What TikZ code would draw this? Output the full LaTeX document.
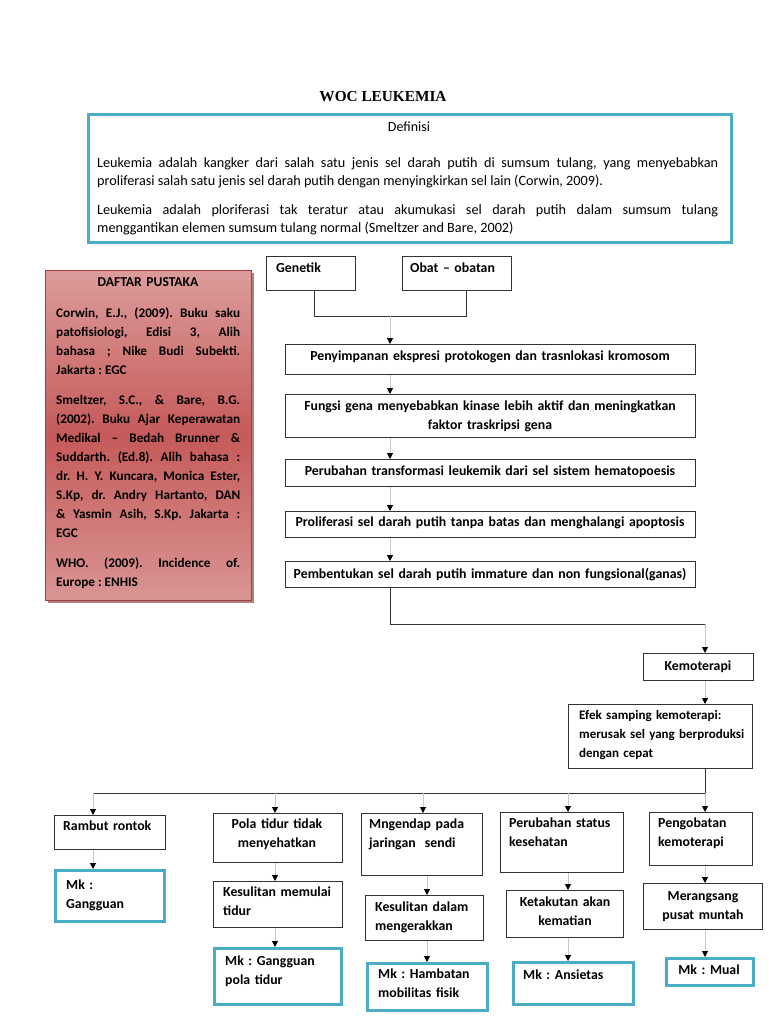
\documentclass[tikz,border=0pt]{standalone}
\usepackage{fontspec}
\setmainfont{Carlito}
\newfontfamily\titlefont{Liberation Serif}
\usetikzlibrary{arrows.meta,shadows,calc}
\definecolor{mkblue}{HTML}{4BACC6}
\definecolor{arrgray}{HTML}{C8C8C8}
\definecolor{dpTop}{HTML}{DC9C9B}
\definecolor{dpMid}{HTML}{C55A5A}
\definecolor{dpBot}{HTML}{D99594}
\definecolor{dpEdge}{HTML}{A04040}
\definecolor{dpShadow}{HTML}{7A2E2E}
\frenchspacing
\tikzset{
  fbox/.style={draw=black!80, line width=1pt, inner sep=0pt, anchor=north west},
  mkbox/.style={draw=mkblue, line width=2.8pt, inner sep=0pt, anchor=north west},
  tx/.style={inner sep=0pt, font=\bfseries\fontsize{13.8}{19}\selectfont, execute at begin node={\hyphenpenalty=10000\strut}, yshift=10.1pt},
  txl/.style={tx, text width=#1, align=left, anchor=north west},
  txl/.default=200pt,
  txc/.style={tx, text width=#1, align=center, anchor=north},
  txc/.default=150pt,
  jus/.style={inner sep=0pt, anchor=north west, text width=#1, align=justify,
    execute at begin node={\tolerance=10000\hyphenpenalty=10000\strut}},
  arr/.style={draw=arrgray, line width=1pt, -{Triangle[color=black,width=6pt,length=6pt]}},
  conn/.style={draw=black!80, line width=1pt},
}
\begin{document}
\begin{tikzpicture}[x=1pt,y=-1pt]
\useasboundingbox (0,0) rectangle (768,1024);
\fill[white] (0,0) rectangle (768,1024);

% title
\node[inner sep=0pt, font=\titlefont\bfseries\fontsize{15.3}{18}\selectfont] (title) at (383,97) {WOC LEUKEMIA};

% definisi
\node[mkbox, minimum width=643pt, minimum height=128pt] (def) at (87,113) {};
\node[inner sep=0pt, anchor=north, text width=200pt, align=center, font=\fontsize{14}{18}\selectfont, execute at begin node=\strut, yshift=9.3pt] (deft) at (409,128) {Definisi};
\node[jus=621pt, font=\fontsize{14.2}{18}\selectfont, yshift=9.3pt] (defp) at (97,164)
{Leukemia adalah kangker dari salah satu jenis sel darah putih di sumsum tulang, yang menyebabkan\linebreak
proliferasi salah satu jenis sel darah putih dengan menyingkirkan sel lain (Corwin, 2009).\\[11pt]
Leukemia adalah ploriferasi tak teratur atau akumukasi sel darah putih dalam sumsum tulang\linebreak
menggantikan elemen sumsum tulang normal (Smeltzer and Bare, 2002)};

% daftar pustaka
\node[draw=dpEdge, line width=0.8pt, inner sep=0pt, anchor=north west, minimum width=206pt, minimum height=330pt,
  top color=dpTop, bottom color=dpBot, middle color=dpMid,
  drop shadow={fill=dpShadow, opacity=0.6, shadow xshift=2.5pt, shadow yshift=-2.5pt}] (dp) at (45,270) {};
\node[inner sep=0pt, anchor=north, text width=184pt, align=center, font=\bfseries\fontsize{13.6}{19}\selectfont, execute at begin node=\strut, yshift=10.2pt] (dpt) at (148,283) {DAFTAR PUSTAKA};
\node[jus=184pt, font=\bfseries\fontsize{13.2}{19}\selectfont, yshift=10.2pt] (dpb) at (56,314)
{Corwin, E.J., (2009). Buku saku\linebreak
patofisiologi, Edisi 3, Alih\linebreak
bahasa ; Nike Budi Subekti.\linebreak
Jakarta : EGC\\[11pt]
Smeltzer, S.C., \& Bare, B.G.\linebreak
(2002). Buku Ajar Keperawatan\linebreak
Medikal -- Bedah Brunner \&\linebreak
Suddarth. (Ed.8). Alih bahasa :\linebreak
dr. H. Y. Kuncara, Monica Ester,\linebreak
S.Kp, dr. Andry Hartanto, DAN\linebreak
\& Yasmin Asih, S.Kp. Jakarta :\linebreak
EGC\\[11pt]
WHO. (2009). Incidence of.\linebreak
Europe : ENHIS};

% top boxes
\node[fbox, minimum width=89pt, minimum height=34pt] (gen) at (266,256) {};
\node[txl] (gent) at (276,269) {Genetik};
\node[fbox, minimum width=109pt, minimum height=34pt] (obat) at (402,256) {};
\node[txl] (obatt) at (410,269) {Obat -- obatan};

% main chain
\node[fbox, minimum width=410pt, minimum height=30pt] (b1) at (285,344) {};
\node[txc=400pt] (b1t) at (490,357) {Penyimpanan ekspresi protokogen dan trasnlokasi kromosom};
\node[fbox, minimum width=410pt, minimum height=43pt] (b2) at (285,394) {};
\node[txc=400pt] (b2t) at (490,407) {Fungsi gena menyebabkan kinase lebih aktif dan meningkatkan\\faktor traskripsi gena};
\node[fbox, minimum width=410pt, minimum height=27pt] (b3) at (285,459) {};
\node[txc=400pt] (b3t) at (490,472) {Perubahan transformasi leukemik dari sel sistem hematopoesis};
\node[fbox, minimum width=410pt, minimum height=26pt] (b4) at (285,511) {};
\node[txc=400pt] (b4t) at (490,523) {Proliferasi sel darah putih tanpa batas dan menghalangi apoptosis};
\node[fbox, minimum width=410pt, minimum height=26pt] (b5) at (285,561) {};
\node[txc=400pt] (b5t) at (490,575) {Pembentukan sel darah putih immature dan non fungsional(ganas)};

\node[fbox, minimum width=110pt, minimum height=27pt] (kemo) at (643,653) {};
\node[txc] (kemot) at (698,667) {Kemoterapi};
\node[fbox, minimum width=184pt, minimum height=64pt] (efek) at (568,704) {};
\node[txl, font=\bfseries\fontsize{13}{19}\selectfont] (efekt) at (579,716) {Efek samping kemoterapi:\\merusak sel yang berproduksi\\dengan cepat};

% bottom row
\node[fbox, minimum width=111pt, minimum height=34pt] (r1) at (54,815) {};
\node[txl] (r1t) at (63,827) {Rambut rontok};
\node[mkbox, minimum width=109pt, minimum height=51pt] (m1) at (54,869) {};
\node[txl] (m1t) at (66,886) {Mk :\\Gangguan};

\node[fbox, minimum width=129pt, minimum height=49pt] (r2) at (213,813) {};
\node[txc] (r2t) at (277,825) {Pola tidur tidak\\menyehatkan};
\node[fbox, minimum width=129pt, minimum height=46pt] (s2) at (213,881) {};
\node[txl] (s2t) at (223,893) {Kesulitan memulai\\tidur};
\node[mkbox, minimum width=127pt, minimum height=56pt] (m2) at (213,947) {};
\node[txl] (m2t) at (225,962) {Mk : Gangguan\\pola tidur};

\node[fbox, minimum width=121pt, minimum height=62pt] (r3) at (361,813) {};
\node[txl] (r3t) at (369,825) {Mngendap pada\\jaringan\ \ sendi};
\node[fbox, minimum width=118pt, minimum height=45pt] (s3) at (365,895) {};
\node[txl] (s3t) at (375,908) {Kesulitan dalam\\mengerakkan};
\node[mkbox, minimum width=120pt, minimum height=47pt] (m3) at (366,962) {};
\node[txl] (m3t) at (378,975) {Mk : Hambatan\\mobilitas fisik};

\node[fbox, minimum width=123pt, minimum height=60pt] (r4) at (500,812) {};
\node[txl] (r4t) at (509,824) {Perubahan status\\kesehatan};
\node[fbox, minimum width=117pt, minimum height=47pt] (s4) at (506,890) {};
\node[txc] (s4t) at (565,903) {Ketakutan akan\\kematian};
\node[mkbox, minimum width=120pt, minimum height=42pt] (m4) at (512,961) {};
\node[txl] (m4t) at (523,976) {Mk : Ansietas};

\node[fbox, minimum width=103pt, minimum height=53pt] (r5) at (649,812) {};
\node[txl] (r5t) at (658,824) {Pengobatan\\kemoterapi};
\node[fbox, minimum width=119pt, minimum height=46pt] (s5) at (643,883) {};
\node[txc] (s5t) at (703,897) {Merangsang\\pusat muntah};
\node[mkbox, minimum width=87pt, minimum height=27pt] (m5) at (665,957) {};
\node[txc] (m5t) at (709,971) {Mk : Mual};

% coordinates
\coordinate (gx) at (314,316);
\coordinate (ox) at (466,316);
\coordinate (j1) at (390,316);
\coordinate (k1) at (390,624);
\coordinate (k2) at (705,624);
\coordinate (e1) at (705,793);
\coordinate (e0) at (93,793);
\coordinate (e2) at (275,793);
\coordinate (e3) at (423,793);
\coordinate (e4) at (568,793);
\coordinate (c3) at (427,0);

% connectors
\draw[conn] (gen.south -| gx) -- (gx) -- (ox) -- (obat.south -| ox);
\draw[arr] (j1) -- (b1.north -| j1);
\draw[arr] (b1.south -| j1) -- (b2.north -| j1);
\draw[arr] (b2.south -| j1) -- (b3.north -| j1);
\draw[arr] (b3.south -| j1) -- (b4.north -| j1);
\draw[arr] (b4.south -| j1) -- (b5.north -| j1);
\draw[conn] (b5.south -| k1) -- (k1) -- (k2);
\draw[arr] (k2) -- (kemo.north -| k2);
\draw[arr] (kemo.south -| k2) -- (efek.north -| k2);
\draw[conn] (efek.south -| e1) -- (e1) -- (e0);

\draw[arr] (e0) -- (r1.north -| e0);
\draw[arr] (r1.south -| e0) -- (m1.north -| e0);
\draw[arr] (e2) -- (r2.north -| e2);
\draw[arr] (r2.south -| e2) -- (s2.north -| e2);
\draw[arr] (s2.south -| e2) -- (m2.north -| e2);
\draw[arr] (e3) -- (r3.north -| e3);
\draw[arr] (r3.south -| c3) -- (s3.north -| c3);
\draw[arr] (s3.south -| c3) -- (m3.north -| c3);
\draw[arr] (e4) -- (r4.north -| e4);
\draw[arr] (r4.south -| e4) -- (s4.north -| e4);
\draw[arr] (s4.south -| e4) -- (m4.north -| e4);
\draw[arr] (e1) -- (r5.north -| e1);
\draw[arr] (r5.south -| e1) -- (s5.north -| e1);
\draw[arr] (s5.south -| e1) -- (m5.north -| e1);
\end{tikzpicture}
\end{document}
